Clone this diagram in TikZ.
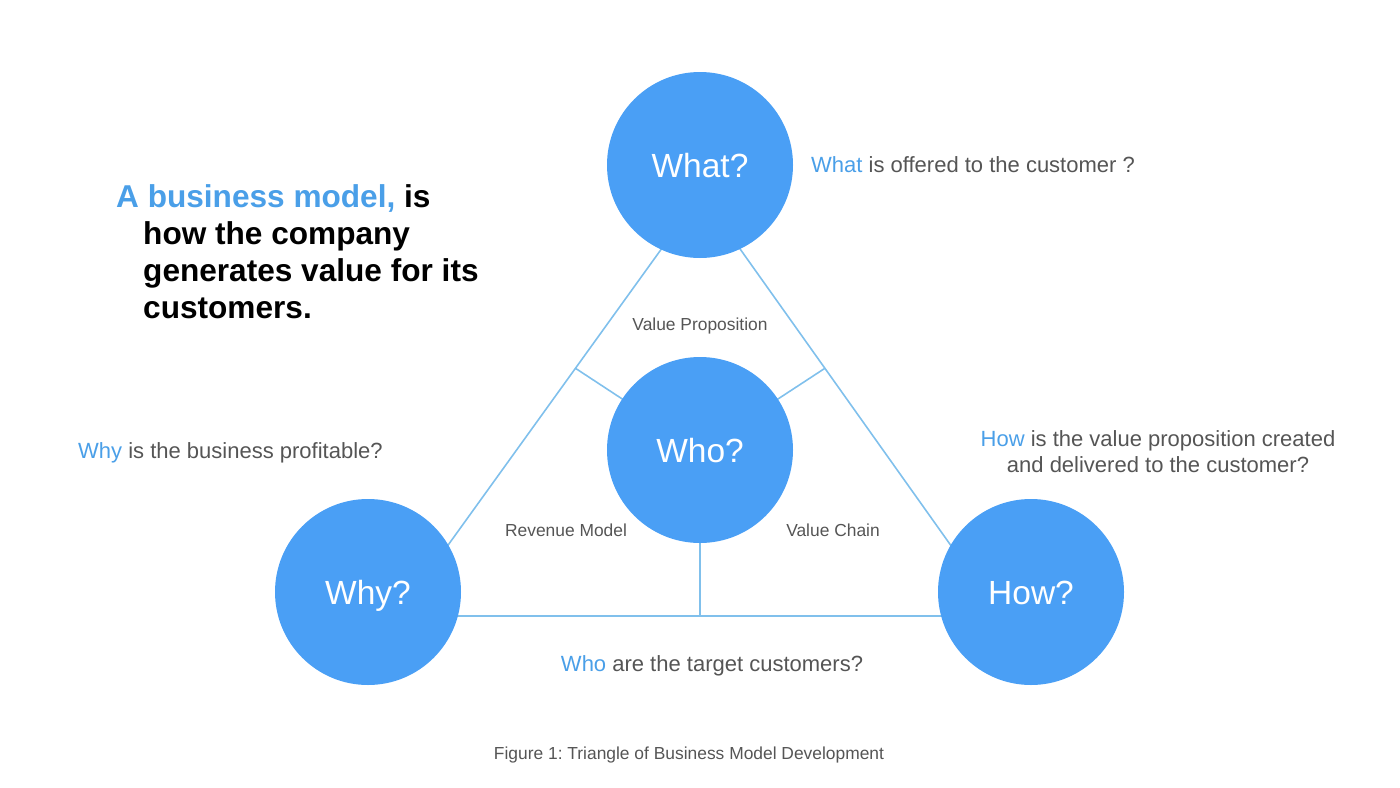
\documentclass[tikz,border=0pt]{standalone}
\usepackage{fontspec}
\setmainfont{Liberation Sans}
\usetikzlibrary{calc}
\definecolor{ballblue}{HTML}{4A9FF5}
\definecolor{wordblue}{HTML}{4A9FE8}
\definecolor{linkblue}{HTML}{80C0EC}
\definecolor{textgray}{HTML}{555555}

\begin{document}
\begin{tikzpicture}[x=1pt,y=-1pt,
  ball/.style={circle,fill=ballblue,minimum size=186pt,inner sep=0pt,text=white,
    text height=24pt,text depth=0pt,font=\fontsize{33.5}{38}\selectfont},
  edge/.style={draw=linkblue,line width=1.6pt},
  note/.style={text=textgray,inner sep=0pt,font=\fontsize{22}{26}\selectfont},
  tag/.style={text=textgray,inner sep=0pt,font=\fontsize{17.4}{20}\selectfont\frenchspacing}]
\useasboundingbox (0,0) rectangle (1400,787);
% triangle and spokes
\coordinate (t0) at (701,194);
\coordinate (t1) at (397,616);
\coordinate (t2) at (1001,616);
\coordinate (hub) at (700,450);
\coordinate (f0) at ($(t0)!0.413!(t1)$);
\coordinate (f1) at ($(t0)!0.413!(t2)$);
\coordinate (f2) at ($(t1)!(hub)!(t2)$);
\draw[edge] (t0)--(t1)--(t2)--cycle;
\draw[edge] (hub)--(f0);
\draw[edge] (hub)--(f1);
\draw[edge] (hub)--(f2);
% circles
\node[ball] (what) at (700,165) {What?};
\node[ball] (who) at (hub) {Who?};
\node[ball] (why) at (368,592) {Why?};
\node[ball] (how) at (1031,592) {How?};
% labels
\node[tag,anchor=base] (vp) at (700,330) {Value Proposition};
\node[tag,anchor=base] (rm) at (566,536) {Revenue Model};
\node[tag,anchor=base] (vc) at (833,536) {Value Chain};
\node[note,anchor=base west] (qwhat) at (811,172) {\textcolor{wordblue}{What} is offered to the customer ?};
\node[note,anchor=base west] (qwhy) at (78,458) {\textcolor{wordblue}{Why} is the business profitable?};
\node[note,anchor=north,align=center] (qhow) at (1158,430) {\textcolor{wordblue}{How} is the value proposition created\\and delivered to the customer?};
\node[note,anchor=base] (qwho) at (712,671) {\textcolor{wordblue}{Who} are the target customers?};
\node[anchor=north west,align=left,inner sep=0pt,font=\fontsize{31.6}{37}\selectfont\bfseries] (head) at (143,184)
  {\hspace*{-27pt}\textcolor{wordblue}{A business model,} is\\how the company\\generates value for its\\customers.};
\node[tag,anchor=base] (cap) at (689,759) {Figure 1: Triangle of Business Model Development};
\end{tikzpicture}
\end{document}
